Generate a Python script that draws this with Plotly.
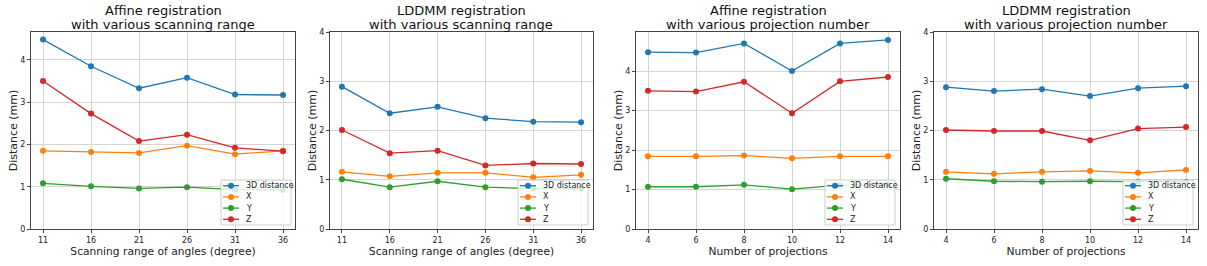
import plotly.graph_objects as go

# ---- data ----
scan_range = [11, 16, 21, 26, 31, 36]
proj_num = [4, 6, 8, 10, 12, 14]

aff_scan_3d = [4.48, 3.85, 3.33, 3.58, 3.18, 3.17]
aff_scan_x = [1.85, 1.82, 1.80, 1.97, 1.77, 1.85]
aff_scan_y = [1.08, 1.01, 0.96, 0.99, 0.93, 0.92]
aff_scan_z = [3.50, 2.73, 2.08, 2.23, 1.92, 1.84]

ldd_scan_3d = [2.89, 2.35, 2.48, 2.25, 2.18, 2.17]
ldd_scan_x = [1.16, 1.07, 1.14, 1.14, 1.05, 1.10]
ldd_scan_y = [1.01, 0.85, 0.97, 0.85, 0.82, 0.82]
ldd_scan_z = [2.01, 1.54, 1.59, 1.29, 1.33, 1.32]

aff_proj_3d = [4.48, 4.47, 4.70, 4.00, 4.70, 4.79]
aff_proj_x = [1.84, 1.84, 1.86, 1.79, 1.84, 1.84]
aff_proj_y = [1.07, 1.07, 1.12, 1.01, 1.11, 1.12]
aff_proj_z = [3.50, 3.48, 3.73, 2.93, 3.74, 3.85]

ldd_proj_3d = [2.88, 2.80, 2.84, 2.70, 2.86, 2.90]
ldd_proj_x = [1.16, 1.12, 1.16, 1.18, 1.14, 1.20]
ldd_proj_y = [1.02, 0.97, 0.96, 0.97, 0.96, 0.96]
ldd_proj_z = [2.01, 1.99, 1.99, 1.80, 2.04, 2.07]

titles_line1 = ["Affine registration", "LDDMM registration",
                "Affine registration", "LDDMM registration"]
titles_line2 = ["with various scanning range", "with various scanning range",
                "with various projection number", "with various projection number"]
xlabels = ["Scanning range of angles (degree)", "Scanning range of angles (degree)",
           "Number of projections", "Number of projections"]
series_names = ["3D distance", "X", "Y", "Z"]
colors = ["#1f77b4", "#ff7f0e", "#2ca02c", "#d62728"]

panels = [
    (scan_range, [aff_scan_3d, aff_scan_x, aff_scan_y, aff_scan_z], 4.66),
    (scan_range, [ldd_scan_3d, ldd_scan_x, ldd_scan_y, ldd_scan_z], 4.0),
    (proj_num, [aff_proj_3d, aff_proj_x, aff_proj_y, aff_proj_z], 4.99),
    (proj_num, [ldd_proj_3d, ldd_proj_x, ldd_proj_y, ldd_proj_z], 4.0),
]

W, H = 1207, 266
px_x = [(31, 295), (330, 593), (636, 900), (934, 1198)]
top_px, bot_px = 32, 229
legend_left_px = [221, 518, 825, 1123]
legend_top_px = 180
legend_w, legend_h = 70, 45
row_h = 11.2

FONT = "DejaVu Sans"
TXT = "#222"


def px2x(p):
    return p / W


def px2y(p):
    return 1 - p / H


fig = go.Figure()
layout = dict(
    width=W, height=H, margin=dict(l=0, r=0, t=0, b=0, autoexpand=False),
    paper_bgcolor="white", plot_bgcolor="white",
    font=dict(family=FONT, color=TXT), showlegend=False,
    annotations=[], shapes=[],
)

for i, (xs, ys_list, ymax) in enumerate(panels):
    n = i + 1
    xa = "x" if n == 1 else f"x{n}"
    ya = "y" if n == 1 else f"y{n}"
    for name, ys, c in zip(series_names, ys_list, colors):
        fig.add_trace(go.Scatter(
            x=xs, y=ys, name=name, mode="lines+markers",
            line=dict(color=c, width=1.3), marker=dict(color=c, size=6),
            xaxis=xa, yaxis=ya, cliponaxis=False,
        ))
    x0, x1 = px_x[i]
    dom_x = [x0 / W, x1 / W]
    dom_y = [1 - bot_px / H, 1 - top_px / H]
    span = xs[-1] - xs[0]
    common = dict(
        showgrid=True, gridcolor="#d5d5d5", gridwidth=1,
        showline=True, mirror=True, linecolor="#444", linewidth=1,
        ticks="outside", ticklen=3, tickcolor="#444", zeroline=False,
        tickfont=dict(size=8, family=FONT, color=TXT), automargin=False,
    )
    layout[f"xaxis{'' if n == 1 else n}"] = dict(
        domain=dom_x, anchor=ya, range=[xs[0] - 0.05 * span, xs[-1] + 0.05 * span],
        tickvals=xs,
        title=dict(text=xlabels[i], font=dict(size=10.7, family=FONT, color=TXT), standoff=0),
        **common,
    )
    layout[f"yaxis{'' if n == 1 else n}"] = dict(
        domain=dom_y, anchor=xa, range=[0, ymax],
        tickvals=[0, 1, 2, 3, 4],
        title=dict(text="Distance (mm)", font=dict(size=11, family=FONT, color=TXT), standoff=0),
        **common,
    )
    cx = (dom_x[0] + dom_x[1]) / 2
    for txt, yc in ((titles_line1[i], 11), (titles_line2[i], 24)):
        layout["annotations"].append(dict(
            text=txt, x=cx, y=px2y(yc), xref="paper", yref="paper",
            xanchor="center", yanchor="middle", showarrow=False,
            font=dict(size=13, family=FONT, color="#111"),
        ))
    # legend box (drawn manually so it is as compact as the reference)
    lx = legend_left_px[i]
    layout["shapes"].append(dict(
        type="rect", xref="paper", yref="paper",
        x0=px2x(lx), x1=px2x(lx + legend_w),
        y0=px2y(legend_top_px + legend_h), y1=px2y(legend_top_px),
        fillcolor="rgba(255,255,255,0.8)", line=dict(color="#cccccc", width=1),
        layer="above",
    ))
    for k, (name, c) in enumerate(zip(series_names, colors)):
        ry = legend_top_px + 5.7 + k * row_h
        layout["shapes"].append(dict(
            type="line", xref="paper", yref="paper",
            x0=px2x(lx + 2), x1=px2x(lx + 18), y0=px2y(ry), y1=px2y(ry),
            line=dict(color=c, width=1.3), layer="above",
        ))
        layout["shapes"].append(dict(
            type="circle", xref="paper", yref="paper",
            x0=px2x(lx + 7), x1=px2x(lx + 13), y0=px2y(ry + 3), y1=px2y(ry - 3),
            fillcolor=c, line=dict(color=c, width=0), layer="above",
        ))
        layout["annotations"].append(dict(
            text=name, x=px2x(lx + 23), y=px2y(ry), xref="paper", yref="paper",
            xanchor="left", yanchor="middle", showarrow=False,
            font=dict(size=8, family=FONT, color=TXT),
        ))

fig.update_layout(**layout)
fig.write_html("out.html", config={"displayModeBar": False},
               post_script="document.body.style.margin='0';document.body.style.overflow='hidden';")
